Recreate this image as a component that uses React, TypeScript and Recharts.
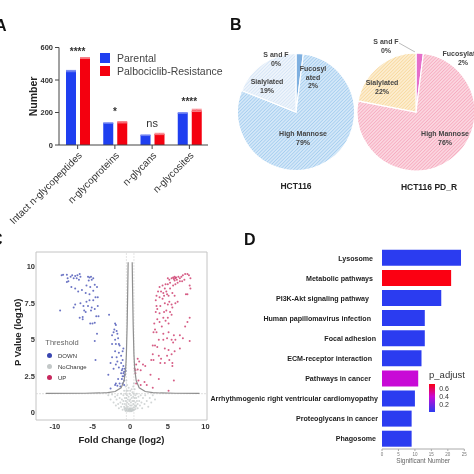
import React from "react";
import {
  Bar,
  BarChart,
  Cell,
  ErrorBar,
  Legend,
  Pie,
  PieChart,
  ReferenceArea,
  ReferenceDot,
  ReferenceLine,
  Scatter,
  ScatterChart,
  XAxis,
  YAxis,
} from "recharts";

const FONT = '"Liberation Sans", Arial, sans-serif';

// Panel A
const glycoNames = ["Intact n-glycopeptides", "n-glycoproteins", "n-glycans", "n-glycosites"];
const parental = [455, 135, 60, 197];
const resistance = [535, 140, 68, 213];
const parentalErr = [4, 1, 2, 2];
const resistanceErr = [3, 4, 4, 7];
const glycoData = glycoNames.map((name, i) => ({
  name,
  parental: parental[i],
  resistance: resistance[i],
  parentalErr: parentalErr[i],
  resistanceErr: resistanceErr[i],
}));
const sigMarks = [
  { name: glycoNames[0], y: 575, text: "****", size: 10 },
  { name: glycoNames[1], y: 205, text: "*", size: 10 },
  { name: glycoNames[2], y: 132, text: "ns", size: 11 },
  { name: glycoNames[3], y: 270, text: "****", size: 10 },
];

// Panel B
const pieNames = ["S and F", "Fucosylated", "High Mannose", "Sialylated"];
const hctValues = [0, 2, 79, 19];
const hctRValues = [0, 2, 76, 22];
const hctFills = ["#d6e6f8", "#7fb0e0", "url(#hatchBlue)", "url(#hatchPale)"];
const hctRFills = ["#f8d79a", "#e56fcb", "url(#hatchPink)", "url(#hatchOrange)"];
const hctData = pieNames.map((name, i) => ({ name, value: hctValues[i] }));
const hctRData = pieNames.map((name, i) => ({ name, value: hctRValues[i] }));

// Panel C
const downPts = [
  [-9.1, 9.4], [-8.9, 9.45], [-8.4, 9.45], [-8.3, 9.2], [-8.2, 9.0], [-7.9, 9.3], [-7.7, 9.4], [-7.5, 9.2],
  [-7.3, 9.35], [-7.1, 9.2], [-7, 9.4], [-6.8, 9.1], [-6.7, 9.5], [-6.6, 9.3], [-8.4, 8.95], [-7.8, 8.6],
  [-7.3, 8.5], [-6.9, 8.3], [-6.4, 8.4], [-5.6, 9.3], [-5.4, 9.25], [-5.2, 9.3], [-5.1, 9.1], [-5.5, 9.05],
  [-4.9, 9.2], [-5.8, 8.7], [-5.3, 8.6], [-4.7, 8.75], [-4.4, 8.6], [-5.9, 8.2], [-5.4, 8.1], [-4.9, 8.35],
  [-4.6, 7.9], [-4.3, 7.9], [-5.8, 7.6], [-5.4, 7.7], [-5.6, 7.3], [-4.9, 7.7], [-5.1, 7.2], [-4.7, 7.1],
  [-4.3, 7.3], [-6.6, 7.5], [-7.3, 7.4], [-7.5, 7.2], [-6.2, 7.3], [-6.1, 7.0], [-5.9, 6.9], [-5.2, 7.0],
  [-9.3, 7.0], [-6.7, 6.5], [-6.3, 6.4], [-6.3, 6.55], [-4.5, 6.6], [-4.2, 6.6], [-5, 6.1], [-5.3, 6.1],
  [-4.7, 6.15], [-4.4, 5.4], [-4.7, 4.9], [-2.8, 6.7], [-2.0, 6.1], [-1.9, 6.0], [-2.1, 5.7], [-1.8, 5.6],
  [-2.2, 5.5], [-1.7, 5.4], [-2.4, 5.3], [-1.6, 5.1], [-2.0, 5.0], [-1.9, 4.7], [-2.4, 4.7], [-1.5, 4.7],
  [-1.4, 4.6], [-0.9, 4.4], [-1.0, 4.2], [-2.0, 4.2], [-1.5, 4.1], [-1.2, 3.9], [-1.8, 3.8], [-2.4, 3.8],
  [-1.0, 3.6], [-1.7, 3.5], [-4.6, 3.6], [-2.6, 3.4], [-1.2, 3.4], [-1.9, 3.3], [-0.9, 3.2], [-1.5, 3.1],
  [-2.2, 3.0], [-1.0, 3.0], [-0.7, 3.0], [-1.1, 2.9], [-0.8, 2.8], [-0.6, 2.85], [-1.2, 2.7], [-0.9, 2.7],
  [-0.7, 2.6], [-2.9, 2.6], [-1.0, 2.5], [-0.8, 2.5], [-1.6, 2.3], [-1.1, 2.3], [-0.8, 2.2], [-1.9, 2.0],
  [-1.4, 2.0], [-1.0, 2.0], [-0.8, 1.9], [-2.0, 1.9], [-1.7, 1.85], [-1.3, 1.8], [-2.6, 1.65],
];
const upPts = [
  [5.0, 9.2], [5.2, 9.1], [5.5, 9.2], [5.7, 9.25], [5.8, 9.15], [5.9, 9.3], [6.0, 9.2], [6.1, 9.25], [6.2, 9.1],
  [5.9, 9.05], [6.4, 9.3], [6.6, 9.2], [6.8, 9.3], [7.0, 9.4], [7.3, 9.5], [7.6, 9.5], [7.8, 9.4], [8.0, 9.2],
  [6.6, 9.0], [6.9, 9.0], [7.2, 9.1], [6.3, 8.9], [6.0, 8.8], [5.7, 8.7], [5.3, 8.9], [5.0, 8.8], [4.7, 8.8],
  [4.3, 8.7], [3.9, 8.6], [4.6, 8.5], [5.3, 8.5], [4.1, 8.3], [4.4, 8.2], [4.8, 8.3], [4.9, 8.1], [5.1, 8.0],
  [3.7, 8.3], [3.5, 8.0], [3.9, 7.9], [4.3, 7.8], [4.5, 8.0], [3.4, 7.7], [5.6, 8.2], [5.9, 8.0], [7.4, 8.1],
  [7.6, 8.1], [8.0, 8.5], [7.9, 8.7], [3.5, 7.3], [3.6, 7.1], [4.0, 7.3], [4.6, 7.5], [5.0, 7.4], [5.2, 7.6],
  [5.5, 7.4], [6.0, 7.5], [6.3, 7.6], [5.6, 7.2], [4.8, 7.0], [5.3, 6.9], [4.5, 6.9], [3.9, 6.8], [3.4, 6.9],
  [3.6, 6.4], [3.9, 6.2], [4.4, 6.5], [5.0, 6.5], [5.5, 6.7], [4.7, 6.3], [5.1, 6.1], [4.2, 5.9], [3.2, 6.1],
  [7.9, 6.5], [7.6, 6.2], [7.3, 5.9], [3.3, 5.7], [3.5, 5.5], [3.1, 5.5], [4.4, 5.4], [5.1, 5.5], [5.8, 5.3],
  [6.6, 5.3], [4.9, 5.1], [3.8, 5.0], [4.4, 5.0], [5.5, 5.0], [6.0, 5.0], [7.0, 5.1], [7.9, 4.9], [5.7, 4.8],
  [3.0, 4.6], [3.3, 4.6], [3.6, 4.5], [4.6, 4.4], [6.6, 4.4], [5.1, 4.3], [5.9, 4.2], [3.0, 4.0], [3.8, 3.9],
  [4.9, 3.9], [5.5, 4.0], [4.1, 3.7], [5.2, 3.6], [2.8, 3.6], [3.1, 3.6], [4.6, 3.4], [5.6, 3.4], [4.0, 3.4],
  [5.6, 3.2], [1.0, 3.7], [1.2, 3.5], [0.8, 3.3], [1.7, 3.3], [2.0, 3.2], [0.6, 3.0], [0.7, 2.9], [1.0, 2.95],
  [0.7, 2.7], [1.4, 2.9], [2.7, 2.6], [1.1, 2.2], [1.9, 2.1], [3.8, 2.3], [5.8, 2.2], [0.8, 2.0], [1.4, 1.9],
  [2.2, 1.9], [3.0, 1.7], [5.1, 1.5],
];
const flatPts = [
  [-2.9, 1.2], [-2.6, 0.9], [-2.4, 1.25], [-2.2, 0.7], [-2.0, 1.1], [-1.9, 0.5], [-1.8, 0.9], [-1.7, 1.2],
  [-1.6, 0.6], [-1.5, 0.3], [-1.4, 1.0], [-1.3, 0.7], [-1.2, 1.3], [-1.2, 0.4], [-1.1, 0.9], [-1.0, 0.6],
  [-1.0, 0.2], [-0.9, 1.2], [-0.9, 0.8], [-0.8, 0.4], [-0.8, 1.5], [-0.7, 1.0], [-0.7, 0.6], [-0.7, 0.2],
  [-0.6, 1.8], [-0.6, 1.3], [-0.6, 0.8], [-0.6, 0.3], [-0.5, 2.2], [-0.5, 1.5], [-0.5, 1.0], [-0.5, 0.5],
  [-0.5, 0.15], [-0.4, 1.9], [-0.4, 1.2], [-0.4, 0.7], [-0.4, 0.3], [-0.3, 1.5], [-0.3, 0.9], [-0.3, 0.4],
  [-0.3, 0.1], [-0.2, 1.7], [-0.2, 1.1], [-0.2, 0.6], [-0.2, 0.2], [-0.1, 1.3], [-0.1, 0.8], [-0.1, 0.3],
  [-0.1, 0.1], [0, 1.5], [0, 0.9], [0, 0.5], [0, 0.2], [0.1, 1.2], [0.1, 0.7], [0.1, 0.3], [0.1, 0.1],
  [0.2, 1.6], [0.2, 1.0], [0.2, 0.5], [0.2, 0.15], [0.3, 1.4], [0.3, 0.8], [0.3, 0.3], [0.4, 1.8], [0.4, 1.1],
  [0.4, 0.6], [0.4, 0.2], [0.5, 2.0], [0.5, 1.3], [0.5, 0.8], [0.5, 0.35], [0.6, 1.6], [0.6, 1.0], [0.6, 0.5],
  [0.7, 1.2], [0.7, 0.7], [0.7, 0.25], [0.8, 1.0], [0.8, 0.5], [0.9, 1.3], [0.9, 0.8], [1.0, 0.6], [1.0, 0.3],
  [1.1, 1.1], [1.2, 0.8], [1.3, 0.5], [1.4, 1.2], [1.5, 0.7], [1.6, 0.3], [1.7, 1.0], [1.9, 0.6], [2.0, 1.2],
  [2.2, 0.8], [2.4, 0.4], [2.6, 1.0], [2.8, 0.7], [3.0, 1.2], [3.3, 0.9],
  [-0.6, 0.12], [-0.45, 0.22], [-0.25, 0.16], [-0.15, 0.26], [-0.05, 0.15], [0.05, 0.25], [0.15, 0.12], [0.25, 0.22],
  [0.35, 0.13], [0.55, 0.2], [-0.75, 0.3], [0.75, 0.4],
];
const downData = downPts.map(([fc, p]) => ({ fc, p }));
const upData = upPts.map(([fc, p]) => ({ fc, p }));
const flatData = flatPts.map(([fc, p]) => ({ fc, p }));
const curveLeft = [
  [-11.2, 1.32], [-6, 1.33], [-4, 1.35], [-3, 1.38], [-2, 1.45], [-1.2, 1.7], [-0.8, 2.2], [-0.6, 3.0],
  [-0.5, 4], [-0.4, 6], [-0.32, 8.5], [-0.27, 10.3],
].map(([fc, p]) => ({ fc, p }));
const curveRight = [
  [0.27, 10.3], [0.32, 8.5], [0.4, 6], [0.5, 4], [0.6, 3.0], [0.8, 2.2], [1.2, 1.7], [2, 1.45], [3, 1.38],
  [4, 1.35], [6, 1.33], [9.2, 1.32],
].map(([fc, p]) => ({ fc, p }));

// Panel D
const pathways = [
  "Lysosome",
  "Metabolic pathways",
  "PI3K-Akt signaling pathway",
  "Human papillomavirus infection",
  "Focal adhesion",
  "ECM-receptor interaction",
  "Pathways in cancer",
  "Arrhythmogenic right ventricular cardiomyopathy",
  "Proteoglycans in cancer",
  "Phagosome",
];
const sigNumber = [24, 21, 18, 13, 13, 12, 11, 10, 9, 9];
const pathwayColors = ["#2b3cf0", "#fb0012", "#2b3cf0", "#2b3cf0", "#2b3cf0", "#2b3cf0", "#c80ad6", "#2b3cf0", "#2b3cf0", "#2b3cf0"];
const pathwayNudge = [-1, -1, -5, -3, 2, -2, -3, 4, 4, 2];
const pathwayData = pathways.map((name, i) => ({ name, n: sigNumber[i] }));

const Note = ({ x, y, lines, size = 7, weight = 700, color = "#444" }: any) => (
  <div
    style={{
      position: "absolute",
      left: x - 60,
      top: y,
      width: 120,
      textAlign: "center",
      fontSize: size,
      lineHeight: `${size + 1.6}px`,
      fontWeight: weight,
      color,
      whiteSpace: "pre",
    }}
  >
    {lines}
  </div>
);

const Letter = ({ x, y, children }: any) => (
  <div style={{ position: "absolute", left: x, top: y, fontSize: 16, fontWeight: 700, lineHeight: "16px", color: "#111" }}>
    {children}
  </div>
);

const hatch = (id: string, bg: string, fg: string) => (
  <pattern id={id} width="2.4" height="2.4" patternUnits="userSpaceOnUse" patternTransform="rotate(-45)">
    <rect width="2.4" height="2.4" fill={bg} />
    <line x1="0" y1="0" x2="2.4" y2="0" stroke={fg} strokeWidth="1.3" />
  </pattern>
);

const PathwayTick = ({ x, y, payload, index }: any) => (
  <text x={x + pathwayNudge[index]} y={y + 2.5} textAnchor="end" fontSize={7.1} fontWeight={700} fill="#222" fontFamily={FONT}>
    {payload.value}
  </text>
);

const SmallDot = ({ cx, cy, fill }: any) => <circle cx={cx} cy={cy} r={1} fill={fill} fillOpacity={0.75} />;

// legend is laid over the plot, the wrapper has no size so the plot keeps its width
const KeyList = ({ payload, size, gap, space, fontSize, round, color, width }: any) => (
  <div style={{ width, fontSize, color }}>
    {(payload || []).map((p: any) => (
      <div key={p.value} style={{ display: "flex", alignItems: "center", height: gap }}>
        <span
          style={{
            display: "inline-block",
            width: size,
            height: size,
            marginRight: space,
            background: p.color,
            borderRadius: round ? "50%" : 0,
          }}
        />
        {p.value}
      </div>
    ))}
  </div>
);

export default function App() {
  return (
    <div
      style={{
        position: "absolute",
        left: 0,
        top: 0,
        width: 474,
        height: 474,
        overflow: "hidden",
        background: "#fff",
        fontFamily: FONT,
        filter: "blur(0.3px)",
      }}
    >
      <Letter x={-5} y={18}>A</Letter>
      <Letter x={230} y={17}>B</Letter>
      <Letter x={-9} y={232}>C</Letter>
      <Letter x={244} y={232}>D</Letter>

      <div style={{ position: "absolute", left: 0, top: 0 }}>
        <BarChart
          width={237}
          height={237}
          data={glycoData}
          margin={{ top: 47.5, right: 29, bottom: 0, left: 25 }}
          barSize={10}
          barGap={4}
        >
          <XAxis
            dataKey="name"
            interval={0}
            height={92}
            angle={-45}
            textAnchor="end"
            tick={{ fontSize: 10, fill: "#333" }}
            tickSize={4}
            stroke="#444"
          />
          <YAxis
            width={34}
            domain={[0, 600]}
            ticks={[0, 200, 400, 600]}
            tick={{ fontSize: 7.5, fontWeight: 700, fill: "#333" }}
            tickSize={4}
            stroke="#444"
            label={{ value: "Number", angle: -90, position: "insideLeft", offset: 8, dy: 20, fontSize: 10.5, fontWeight: 700, fill: "#222" }}
          />
          <Legend
            layout="vertical"
            align="left"
            verticalAlign="top"
            itemSorter={null}
            wrapperStyle={{ left: 100, top: 51, width: 0, height: 0 }}
            content={<KeyList size={10} gap={13.3} space={7} fontSize={10.5} color="#444" width={140} />}
          />
          <Bar dataKey="parental" name="Parental" fill="#1f3ff0" isAnimationActive={false}>
            <ErrorBar dataKey="parentalErr" width={5} stroke="#6f82f2" strokeWidth={1} />
          </Bar>
          <Bar dataKey="resistance" name="Palbociclib-Resistance" fill="#f4000f" isAnimationActive={false}>
            <ErrorBar dataKey="resistanceErr" width={5} stroke="#f77a82" strokeWidth={1} />
          </Bar>
          {sigMarks.map((m) => (
            <ReferenceDot
              key={m.name}
              x={m.name}
              y={m.y}
              r={0}
              ifOverflow="visible"
              label={{ value: m.text, position: "center", fontSize: m.size, fontWeight: m.text === "ns" ? 400 : 700, fill: "#333" }}
            />
          ))}
        </BarChart>
      </div>

      <div style={{ position: "absolute", left: 225, top: 0 }}>
        <PieChart width={249} height={210} margin={{ top: 0, right: 0, bottom: 0, left: 0 }}>
          <defs>
            {hatch("hatchBlue", "#d3e7f8", "#9cc8ee")}
            {hatch("hatchPale", "#eef4fb", "#d0e2f5")}
            {hatch("hatchPink", "#fbd5df", "#f5a3b9")}
            {hatch("hatchOrange", "#fcedcf", "#f8d594")}
          </defs>
          <Pie
            data={hctData}
            dataKey="value"
            cx={71}
            cy={112}
            outerRadius={58.5}
            startAngle={90}
            endAngle={-270}
            stroke="#fff"
            strokeWidth={1.2}
            isAnimationActive={false}
          >
            {hctData.map((d, i) => (
              <Cell key={d.name} fill={hctFills[i]} />
            ))}
          </Pie>
          <Pie
            data={hctRData}
            dataKey="value"
            cx={191}
            cy={112}
            outerRadius={59}
            startAngle={90}
            endAngle={-270}
            stroke="#fff"
            strokeWidth={1.2}
            isAnimationActive={false}
          >
            {hctRData.map((d, i) => (
              <Cell key={d.name} fill={hctRFills[i]} />
            ))}
          </Pie>
          <line x1={174} y1={43} x2={190} y2={52} stroke="#aaa" strokeWidth={0.8} />
        </PieChart>
      </div>
      <Note x={276} y={51} lines={"S and F\n0%"} />
      <Note x={313} y={65} lines={"Fucosyl\nated\n2%"} />
      <Note x={267} y={78} lines={"Sialylated\n19%"} />
      <Note x={303} y={130} lines={"High Mannose\n79%"} />
      <Note x={296} y={181} lines="HCT116" size={8.5} color="#222" />
      <Note x={386} y={38} lines={"S and F\n0%"} />
      <Note x={463} y={50} lines={"Fucosylated\n2%"} />
      <Note x={382} y={79} lines={"Sialylated\n22%"} />
      <Note x={445} y={130} lines={"High Mannose\n76%"} />
      <Note x={429} y={182} lines="HCT116 PD_R" size={8.5} color="#222" />

      <div style={{ position: "absolute", left: 0, top: 240 }}>
        <ScatterChart width={210} height={210} margin={{ top: 12, right: 3, bottom: 0, left: 0 }}>
          <XAxis
            type="number"
            dataKey="fc"
            domain={[-12.5, 10.2]}
            ticks={[-10, -5, 0, 5, 10]}
            height={30}
            tick={{ fontSize: 7.5, fontWeight: 700, fill: "#333" }}
            axisLine={false}
            tickLine={false}
            tickSize={4}
            tickMargin={0}
            label={{ value: "Fold Change (log2)", position: "insideBottom", offset: 7, fontSize: 9.5, fontWeight: 700, fill: "#222" }}
          />
          <YAxis
            type="number"
            dataKey="p"
            domain={[-0.5, 11]}
            ticks={[0, 2.5, 5, 7.5, 10]}
            width={36}
            tick={{ fontSize: 7.5, fontWeight: 700, fill: "#333" }}
            axisLine={false}
            tickLine={false}
            tickSize={0}
            tickMargin={1}
            label={{ value: "P Value  (log10)", angle: -90, position: "insideLeft", offset: 18, dy: 30, fontSize: 9.5, fontWeight: 700, fill: "#222" }}
          />
          <ReferenceArea x1={-12.5} x2={10.2} y1={-0.5} y2={11} fill="none" stroke="#c4c4c4" strokeWidth={1} />
          <ReferenceLine y={1.3} stroke="#d0d0d0" strokeDasharray="2 1" strokeWidth={0.7} />
          <ReferenceLine x={-0.5} stroke="#d8d8d8" strokeDasharray="2 1" strokeWidth={0.7} />
          <ReferenceLine x={0.5} stroke="#d8d8d8" strokeDasharray="2 1" strokeWidth={0.7} />
          <Legend
            layout="vertical"
            align="left"
            verticalAlign="top"
            itemSorter={null}
            wrapperStyle={{ left: 47, top: 110, width: 0, height: 0 }}
            content={<KeyList size={5} gap={11.2} space={6} fontSize={6} color="#333" width={60} round />}
          />
          <Scatter name="DOWN" data={downData} fill="#3a46b0" shape={SmallDot} isAnimationActive={false} />
          <Scatter name="NoChange" data={flatData} fill="#c3c8c8" shape={SmallDot} isAnimationActive={false} />
          <Scatter name="UP" data={upData} fill="#c8285e" shape={SmallDot} isAnimationActive={false} />
          <Scatter data={curveLeft} line={{ stroke: "#8f8f8f", strokeWidth: 1.2 }} lineType="joint" shape={() => null} legendType="none" isAnimationActive={false} />
          <Scatter data={curveRight} line={{ stroke: "#8f8f8f", strokeWidth: 1.2 }} lineType="joint" shape={() => null} legendType="none" isAnimationActive={false} />
        </ScatterChart>
      </div>
      <Note x={62} y={338} lines="Threshold" size={7.5} weight={400} color="#666" />

      <div style={{ position: "absolute", left: 205, top: 240 }}>
        <BarChart
          layout="vertical"
          width={269}
          height={234}
          data={pathwayData}
          margin={{ top: 8, right: 9.7, bottom: 0, left: 0 }}
          barCategoryGap="9%"
        >
          <XAxis
            type="number"
            domain={[0, 25]}
            ticks={[0, 5, 10, 15, 20, 25]}
            height={25}
            tick={{ fontSize: 4.5, fill: "#777" }}
            tickSize={2}
            stroke="#aaa"
            label={{ value: "Significant Number", position: "insideBottom", offset: 11, fontSize: 6.4, fill: "#666" }}
          />
          <YAxis type="category" dataKey="name" width={177} interval={0} axisLine={false} tickLine={false} tick={PathwayTick} />
          <Bar dataKey="n" isAnimationActive={false}>
            {pathwayData.map((d, i) => (
              <Cell key={d.name} fill={pathwayColors[i]} />
            ))}
          </Bar>
        </BarChart>
      </div>

      <Note x={447} y={369} lines="p_adjust" size={9.5} weight={400} color="#333" />
      <div
        style={{
          position: "absolute",
          left: 429,
          top: 384,
          width: 5.5,
          height: 28,
          background: "linear-gradient(#fb0012, #c80ad6 45%, #2b3cf0)",
        }}
      />
      <Note x={444} y={385} lines="0.6" size={7} weight={400} color="#333" />
      <Note x={444} y={393} lines="0.4" size={7} weight={400} color="#333" />
      <Note x={444} y={401} lines="0.2" size={7} weight={400} color="#333" />
    </div>
  );
}
